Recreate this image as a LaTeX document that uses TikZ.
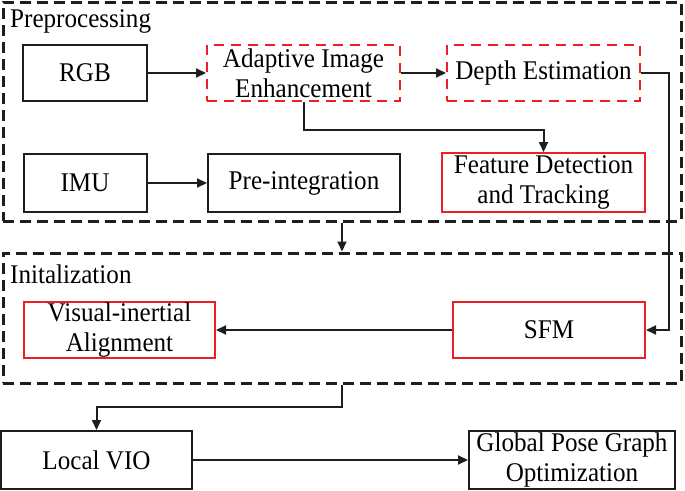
\documentclass[tikz,border=0pt]{standalone}
\usepackage{fontspec}
\setmainfont{Liberation Serif}[FakeStretch=0.93]
\usetikzlibrary{arrows.meta}
\definecolor{boxred}{RGB}{236,32,36}
\definecolor{ink}{RGB}{30,30,30}
\tikzset{
  box/.style={draw=ink, line width=2pt, inner sep=0pt, align=center, minimum height=56pt},
  redbox/.style={box, draw=boxred},
  reddash/.style={box, draw=boxred, dash pattern=on 10pt off 7pt},
  frame/.style={draw=ink, line width=3pt, dash pattern=on 11pt off 6pt, inner sep=0pt},
  arr/.style={draw=ink, line width=2pt, -{Triangle[length=10pt,width=9pt]}},
  lab/.style={anchor=base west, inner sep=0pt},
}
\begin{document}
\begin{tikzpicture}[x=1pt,y=-1pt,font=\fontsize{27}{30}\selectfont]
\useasboundingbox (0,0) rectangle (685,490);
% frames
\node[frame, minimum width=678pt, minimum height=219pt] (pf) at (342,111.5) {};
\node[frame, minimum width=678pt, minimum height=130pt] (if) at (342,318) {};
\node[lab] (plab) at (10,27) {Preprocessing};
\node[lab] (ilab) at (10,283) {Initalization};
% preprocessing boxes
\node[box, minimum width=124pt] (rgb) at (85,73) {RGB};
\node[reddash, minimum width=193pt] (aie) at (303.5,73) {Adaptive Image\\Enhancement};
\node[reddash, minimum width=193pt] (dep) at (543.5,73) {Depth Estimation};
\node[box, minimum width=123pt, minimum height=58pt] (imu) at (85,183) {IMU};
\node[box, minimum width=192pt, minimum height=58pt] (pre) at (304,183) {Pre-integration};
\node[redbox, minimum width=203pt, minimum height=59pt] (feat) at (543.5,182.5) {Feature Detection\\and Tracking};
% initialization boxes
\node[redbox, minimum width=191pt] (via) at (119.5,330) {Visual-inertial\\Alignment};
\node[redbox, minimum width=192pt] (sfm) at (549,330) {SFM};
% bottom
\node[box, minimum width=191pt, minimum height=58pt] (lvio) at (96.5,460) {Local VIO};
\node[box, minimum width=206pt, minimum height=58pt] (gpgo) at (572,460) {Global Pose Graph\\Optimization};
% connectors
\coordinate (c1) at (669,73);
\coordinate (c2) at (303.5,130);
\draw[arr] (rgb) -- (aie);
\draw[arr] (aie) -- (dep);
\draw[arr] (dep.east) -- (c1) |- (sfm.east);
\draw[arr] (aie.south) -- (c2) -| (feat.north);
\draw[arr] (imu) -- (pre);
\draw[arr] (pf.south) -- (if.north);
\draw[arr] (sfm) -- (via);
\draw[arr] (if.south) -- ++(0,22) -| (lvio.north);
\draw[arr] (lvio) -- (gpgo);
\end{tikzpicture}
\end{document}
